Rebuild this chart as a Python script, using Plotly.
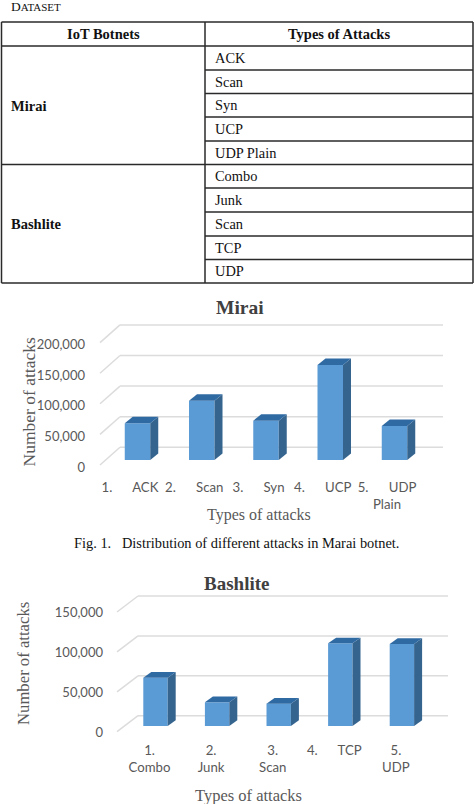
import plotly.graph_objects as go

W, H = 474, 804

# ---------- data ----------
NB = "\u00a0" * 6
mirai_values = [60000, 97000, 64300, 155300, 55600]
mirai_ticks = [f"1.{NB}ACK", f"2.{NB}Scan", f"3.{NB}Syn", f"4.{NB}UCP", f"5.{NB}UDP<br>Plain"]
mirai_yticks = [0, 50000, 100000, 150000, 200000]

bashlite_values = [60600, 29700, 28000, 103600, 102800]
bashlite_ticks = ["1.<br>Combo", "2.<br>Junk", "3.<br>Scan", f"4.{NB}TCP", "5.<br>UDP"]
bashlite_yticks = [0, 50000, 100000, 150000]

table_header = ["IoT Botnets", "Types of Attacks"]
table_groups = ["Mirai", "Bashlite"]
mirai_attacks = ["ACK", "Scan", "Syn", "UCP", "UDP Plain"]
bashlite_attacks = ["Combo", "Junk", "Scan", "TCP", "UDP"]

SERIF = "Liberation Serif"
SANS = "Lato"
GRAY = "#595959"

def px(x):
    return x / W

def py(y):
    return 1 - y / H

fig = go.Figure()
shapes, annotations = [], []

def text(x, y, s, size, color="#111111", bold=False, anchor="center", angle=0, font=SERIF):
    annotations.append(dict(x=px(x), y=py(y), xref="paper", yref="paper", text=f"<b>{s}</b>" if bold else s,
                            showarrow=False, xanchor=anchor, yanchor="middle", textangle=angle,
                            font=dict(family=font, size=size, color=color)))

# ---------- table ----------
T_L, T_M, T_R = 1.5, 205, 473
rows = [22, 46, 70, 93.5, 117, 141, 164.5, 188, 212, 236, 259.5, 283]
def hline(x0, x1, y, w=1.5):
    shapes.append(dict(type="line", xref="paper", yref="paper", x0=px(x0), x1=px(x1), y0=py(y), y1=py(y),
                       line=dict(color="#2a2a2a", width=w)))
def vline(x, y0, y1, w=1.5):
    shapes.append(dict(type="line", xref="paper", yref="paper", x0=px(x), x1=px(x), y0=py(y0), y1=py(y1),
                       line=dict(color="#2a2a2a", width=w)))
for i, y in enumerate(rows):
    if i in (0, 1, 6, 11):
        hline(T_L, T_R, y)
    else:
        hline(T_M, T_R, y)
for x in (T_L, T_M, T_R):
    vline(x, rows[0], rows[-1])

text(103, 34, table_header[0], 14.5, bold=True)
text(339, 34, table_header[1], 14.5, bold=True)
text(9, 105.5, table_groups[0], 14.5, bold=True, anchor="left")
text(9, 224, table_groups[1], 14.5, bold=True, anchor="left")
for i, s in enumerate(mirai_attacks + bashlite_attacks):
    text(213, (rows[i + 1] + rows[i + 2]) / 2, s, 14.4, anchor="left")
text(9, 6, "D<span style='font-size:11px'>ATASET</span>", 13.5, anchor="left")
text(236.5, 543, "Fig. 1.\u00a0\u00a0\u00a0Distribution of different attacks in Marai botnet.", 14.4)

# ---------- 3-D column charts ----------
FRONT, SIDE, TOP = "#5b9bd5", "#35648f", "#2f6aa3"
GRID = "#dcdcdc"

def chart(idx, values, ticks, yticks, g):
    xa = "x" if idx == 1 else "x2"
    ya = "y" if idx == 1 else "y2"
    ppu = g["px50k"] / 50000          # pixels per unit on y
    pxu = g["step"]                   # pixels per category on x
    x_of = lambda p: (p - g["x0"]) / pxu
    v_of = lambda p: (g["base"] - p) / ppu
    xr = [x_of(g["L"]), x_of(W)]
    yr = [v_of(g["bot"]), v_of(g["top"])]
    w = g["bw"] / pxu
    dx, dy = g["dx"] / pxu, g["dy"] / ppu
    idxs = list(range(len(values)))

    # gridlines: back wall plus the diagonal to the front
    for t in yticks:
        back = t + g["back"] / ppu
        front = back - g["diag_dy"] / ppu
        shapes.append(dict(type="line", layer="below", xref=xa, yref=ya, x0=x_of(g["grid_l"]), x1=x_of(g["grid_r"]),
                           y0=back, y1=back, line=dict(color=GRID, width=1.5)))
        shapes.append(dict(type="line", layer="below", xref=xa, yref=ya, x0=x_of(g["grid_l"] - g["diag_dx"]),
                           x1=x_of(g["grid_l"]), y0=front, y1=back, line=dict(color=GRID, width=1.5)))

    fig.add_trace(go.Bar(x=idxs, y=values, width=w, marker=dict(color=FRONT, line=dict(width=0)),
                         xaxis=xa, yaxis=ya, showlegend=False, hoverinfo="skip"))
    for i, v in zip(idxs, values):
        r, l = i + w / 2, i - w / 2
        fig.add_trace(go.Scatter(x=[r, r + dx, r + dx, r, r], y=[0, dy, v + dy, v, 0], mode="lines", fill="toself",
                                 fillcolor=SIDE, line=dict(width=0), xaxis=xa, yaxis=ya,
                                 showlegend=False, hoverinfo="skip"))
        fig.add_trace(go.Scatter(x=[l, l + dx, r + dx, r, l], y=[v, v + dy, v + dy, v, v], mode="lines", fill="toself",
                                 fillcolor=TOP, line=dict(width=0), xaxis=xa, yaxis=ya,
                                 showlegend=False, hoverinfo="skip"))

    xkey = "xaxis" if idx == 1 else "xaxis2"
    ykey = "yaxis" if idx == 1 else "yaxis2"
    fig.update_layout(**{
        xkey: dict(domain=[px(g["L"]), 1], range=xr, anchor=ya, automargin=False, showgrid=False, zeroline=False,
                   showline=False, tickmode="array", tickvals=[i + g["lab_off"] / pxu for i in idxs], ticktext=ticks,
                   tickangle=0, ticks="outside", ticklen=g["xtl"], tickcolor="rgba(0,0,0,0)",
                   tickfont=dict(family=SANS, size=13.2, color=GRAY)),
        ykey: dict(domain=[py(g["bot"]), py(g["top"])], range=yr, anchor=xa, automargin=False, showgrid=False,
                   zeroline=False, showline=False, tickmode="array", tickvals=yticks,
                   ticktext=[f"{t:,}" for t in yticks],
                   ticklabelshift=g["lab_shift"], ticks="", tickfont=dict(family=SANS, size=13, color=GRAY)),
    })

mirai_geo = dict(x0=137.5, step=64.25, base=460, px50k=30.6, L=86, bot=472, top=318, bw=25.5, dx=8, dy=6.5,
                 back=12.7, diag_dy=17.7, diag_dx=20, grid_l=120, grid_r=443, lab_off=-7.5, xtl=3, lab_shift=7)
bash_geo = dict(x0=155.5, step=61.6, base=726, px50k=39.9, L=104, bot=736, top=590, bw=24.4, dx=8, dy=5.7,
                back=10.3, diag_dy=16, diag_dx=21, grid_l=138, grid_r=448, lab_off=-6, xtl=2, lab_shift=6)

chart(1, mirai_values, mirai_ticks, mirai_yticks, mirai_geo)
chart(2, bashlite_values, bashlite_ticks, bashlite_yticks, bash_geo)

text(240, 308, "Mirai", 19.5, color="#404040", bold=True)
text(259, 515, "Types of attacks", 16, color=GRAY)
text(28, 402.5, "Number of attacks", 17.5, color=GRAY, angle=-90)

text(236, 583, "Bashlite", 19, color="#404040", bold=True)
text(248, 795, "Types of attacks", 16.5, color=GRAY)
text(23, 664, "Number of attacks", 16.7, color=GRAY, angle=-90)

fig.update_layout(width=W, height=H, margin=dict(l=0, r=0, t=0, b=0), paper_bgcolor="white", plot_bgcolor="rgba(0,0,0,0)",
                  showlegend=False, hovermode=False, barmode="overlay", shapes=shapes, annotations=annotations)

fig.write_html("out.html", config={"displayModeBar": False},
               post_script="document.body.style.margin='0';document.body.style.overflow='hidden';")
